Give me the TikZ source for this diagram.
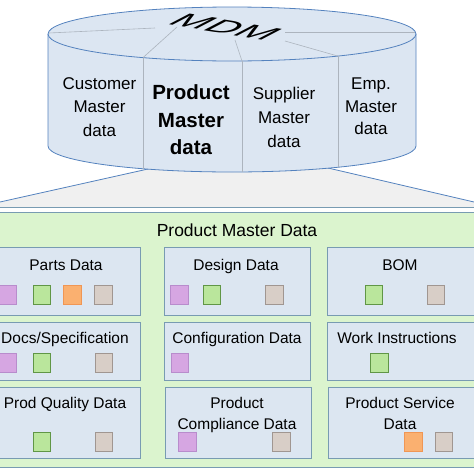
\documentclass[tikz,border=0pt]{standalone}
\usepackage{fontspec}
\setmainfont{Liberation Sans}
\usepackage{tikz}
\usetikzlibrary{positioning}
\definecolor{cylfill}{RGB}{220,230,242}
\definecolor{cylline}{RGB}{84,130,190}
\definecolor{divline}{RGB}{172,180,190}
\definecolor{funfill}{RGB}{240,240,240}
\definecolor{greenbg}{RGB}{219,244,206}
\definecolor{boxfill}{RGB}{220,230,241}
\definecolor{boxline}{RGB}{120,155,178}
\definecolor{purplefill}{RGB}{214,166,226}
\definecolor{purpleline}{RGB}{184,140,204}
\definecolor{greenfill}{RGB}{186,230,156}
\definecolor{greenline}{RGB}{96,150,70}
\definecolor{orangefill}{RGB}{250,176,112}
\definecolor{orangeline}{RGB}{240,150,84}
\definecolor{grayfill}{RGB}{216,206,199}
\definecolor{grayline}{RGB}{160,150,145}
\tikzset{
  databox/.style={draw=boxline, fill=boxfill, line width=0.8pt},
  sq/.style={minimum width=17.5pt, minimum height=19pt, inner sep=0pt, line width=0.6pt},
  sqpurple/.style={sq, draw=purpleline, fill=purplefill},
  sqgreen/.style={sq, draw=greenline, fill=greenfill},
  sqorange/.style={sq, draw=orangeline, fill=orangefill},
  sqgray/.style={sq, draw=grayline, fill=grayfill},
  lbl/.style={inner sep=0pt, font=\fontsize{15.5}{21}\selectfont, align=center},
  cyltext/.style={inner sep=0pt, font=\fontsize{17}{23.5}\selectfont, align=center}
}

\begin{document}
\begin{tikzpicture}[x=1pt,y=-1pt]
\def\cylx {232}   % x-position of center of the cylinder
\def\ytop {34}    % y-position of the top ellipse
\def\ybot {146}   % y-position of the bottom ellipse
\def\cylrx {184}  % half width of the cylinder
\def\cylry {27}   % half height of the ellipses
\clip (0,0) rectangle (474,474);
% funnel:
 \coordinate (funL) at (148,169);
 \coordinate (funR) at (328,168);
 \coordinate (edgeL) at (0,202);
 \coordinate (edgeR) at (474,202);
 \fill[funfill] (funL) -- (edgeL) -- (0,207) -- (474,207) -- (edgeR) -- (funR) -- cycle;
 \draw[draw=cylline, line width=0.8pt] (funL) -- (edgeL);
 \draw[draw=cylline, line width=0.8pt] (funR) -- (edgeR);
 \draw[draw=boxline, line width=0.8pt] (-5,207) -- (479,207);
% product master data:
 \draw[draw=boxline, fill=greenbg, line width=0.8pt] (-5,212) rectangle (479,467);
 \node[inner sep=0pt, anchor=base, font=\fontsize{17.5}{21}\selectfont] (pmd) at (237,236) {Product Master Data};
 \draw[databox] (-10,247) rectangle (140,315);
 \draw[databox] (164,247) rectangle (310,315);
 \draw[databox] (327,247) rectangle (485,315);
 \draw[databox] (-10,322) rectangle (140,380);
 \draw[databox] (164,322) rectangle (310,380);
 \draw[databox] (327,322) rectangle (485,380);
 \draw[databox] (-10,387) rectangle (140,458);
 \draw[databox] (165,387) rectangle (311,458);
 \draw[databox] (328,387) rectangle (485,458);
 \node[lbl, anchor=base] (parts) at (66,270) {Parts Data};
 \node[lbl, anchor=base] (design) at (236,270) {Design Data};
 \node[lbl, anchor=base] (bom) at (400,270) {BOM};
 \node[lbl, anchor=base] (docs) at (65,343) {Docs/Specification};
 \node[lbl, anchor=base] (config) at (237,343) {Configuration Data};
 \node[lbl, anchor=base] (work) at (397,343) {Work Instructions};
 \node[lbl, anchor=base] (quality) at (65,408) {Prod Quality Data};
 \node[lbl] (compliance) at (237,414.5) {Product\\Compliance Data};
 \node[lbl] (service) at (400,413) {Product Service\\Data};
% squares:
 \node[sqpurple] (parts1) at (8,294.5) {};
 \node[sqgreen] (parts2) at (42,294.5) {};
 \node[sqorange] (parts3) at (72.5,294.5) {};
 \node[sqgray] (parts4) at (103.5,294.5) {};
 \node[sqpurple] (design1) at (179.5,294.5) {};
 \node[sqgreen] (design2) at (212,294.5) {};
 \node[sqgray] (design4) at (274.5,294.5) {};
 \node[sqgreen] (bom2) at (374,294.5) {};
 \node[sqgray] (bom4) at (436,294.5) {};
 \node[sqpurple] (docs1) at (8,362.7) {};
 \node[sqgreen] (docs2) at (42,362.7) {};
 \node[sqgray] (docs4) at (104,362.7) {};
 \node[sqpurple] (config1) at (180,362.7) {};
 \node[sqgreen] (work2) at (379.5,362.7) {};
 \node[sqgreen] (quality2) at (42,441.7) {};
 \node[sqgray] (quality4) at (104,441.7) {};
 \node[sqpurple] (compliance1) at (187.5,441.7) {};
 \node[sqgray] (compliance4) at (281.5,441.7) {};
 \node[sqorange] (service3) at (413.5,441.7) {};
 \node[sqgray] (service4) at (444,441.7) {};
% cylinder:
 \draw[draw=cylline, fill=cylfill, line width=0.8pt] (\cylx-\cylrx,\ytop) -- (\cylx-\cylrx,\ybot)
   arc[start angle=180, end angle=360, x radius=\cylrx pt, y radius=26pt] -- (\cylx+\cylrx,\ytop);
 \draw[draw=cylline, fill=cylfill, line width=0.8pt] (\cylx,\ytop) ellipse [x radius=\cylrx pt, y radius=\cylry pt];
 \draw[draw=divline, line width=0.6pt] (143,57.6) -- (143,168.8);
 \draw[draw=divline, line width=0.6pt] (242,61) -- (242,172);
 \draw[draw=divline, line width=0.6pt] (338,56.1) -- (338,167.3);
 \draw[draw=divline, line width=0.6pt] (49,33) -- (155,28);
 \draw[draw=divline, line width=0.6pt] (143,57.6) -- (177,27);
 \draw[draw=divline, line width=0.6pt] (242,61) .. controls (238,50) .. (235,40);
 \draw[draw=divline, line width=0.6pt] (338,56.1) -- (285,41);
 \draw[draw=divline, line width=0.6pt] (285,32) -- (415,32);
 \node[inner sep=0pt, font=\fontsize{20}{20}\itshape\selectfont, rotate=-9, xscale=2.1, xslant=0.45] (mdm) at (225,27) {MDM};
 \node[cyltext, font=\fontsize{17}{23.3}\selectfont] (customer) at (99.5,107) {Customer\\Master\\data};
 \node[cyltext, font=\fontsize{20.5}{27.5}\bfseries\selectfont] (product) at (191,120) {Product\\Master\\data};
 \node[cyltext, font=\fontsize{17}{24}\selectfont] (supplier) at (284,117.8) {Supplier\\Master\\data};
 \node[cyltext, font=\fontsize{17}{22.5}\selectfont] (emp) at (371,106.3) {Emp.\\Master\\data};
\end{tikzpicture}
\end{document}
